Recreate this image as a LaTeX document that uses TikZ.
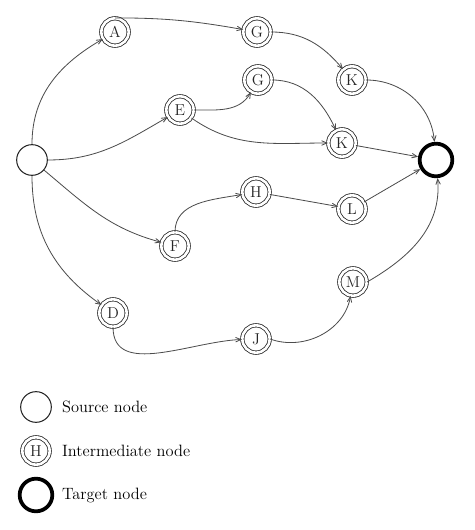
\documentclass[tikz,border=0pt]{standalone}
\usepackage{tikz}
\usetikzlibrary{arrows}
\tikzset{
  source/.style={
    circle, draw, color=black!85, fill=white,
    line width=0.9pt, minimum size=0.92cm, inner sep=0pt
  },
  relay/.style={
    circle, draw, color=black!85, double, double distance=2.2pt,
    line width=0.7pt, minimum size=0.82cm, inner sep=0pt,
    font=\fontsize{13.5}{15}\selectfont
  },
  target/.style={
    circle, draw, color=black, line width=3.2pt,
    minimum size=0.98cm, inner sep=0pt
  },
  link/.style={
    draw, ->, >=angle 45, color=black!70, line width=.7pt
  },
  caption/.style={anchor=west, font=\fontsize{14}{16}\selectfont}
}

\begin{document}
\begin{tikzpicture}[x=0.03cm, y=0.03cm]
        \useasboundingbox (0,0) rectangle (474,530);
        \node[source] (s) at (32,370) {};
        \node[relay] (a) at (115,498) {A};
        \node[relay] (g1) at (257,498) {G};
        \node[relay] (k1) at (352,450) {K};
        \node[relay] (g2) at (258,450) {G};
        \node[relay] (e) at (180,420) {E};
        \node[relay] (k2) at (342,387) {K};
        \node[target] (t) at (436,370) {};
        \node[relay] (h) at (256,338) {H};
        \node[relay] (l) at (352,321) {L};
        \node[relay] (f) at (175,284) {F};
        \node[relay] (m) at (353,248) {M};
        \node[relay] (d) at (113,217) {D};
        \node[relay] (j) at (256,191) {J};

        \draw (s.north) edge[link, out=90, in=210] (a);
        \draw (a.north) edge[link, out=0, in=170] (g1);
        \draw (g1.east) edge[link, out=0, in=130] (k1);
        \draw (g2.east) edge[link, out=0, in=115] (k2);
        \draw (k1.east) edge[link, out=0, in=95] (t);
        \draw (e.east) edge[link, out=0, in=240] (g2);
        \draw (e) edge[link, out=-35, in=180] (k2);
        \draw[link] (k2) -- (t);
        \draw (s.east) edge[link, out=0, in=210] (e);
        \draw (s) edge[link, out=-40, in=165] (f);
        \draw (s.south) edge[link, out=270, in=145] (d);
        \draw (f.north) edge[link, out=90, in=190] (h);
        \draw[link] (h) -- (l);
        \draw[link] (l) -- (t);
        \draw (d.south) edge[link, out=-90, in=182] (j);
        \draw (j.east) edge[link, out=-20, in=-100] (m);
        \draw (m.east) edge[link, out=30, in=-85] (t);

        % legend
        \node[source] (ks) at (36,123) {};
        \node[caption] (ts) at (58,123) {Source node};
        \node[relay] (kr) at (36,79) {H};
        \node[caption] (tr) at (58,79) {Intermediate node};
        \node[target] (kt) at (36,35) {};
        \node[caption] (tt) at (58,35) {Target node};
      \end{tikzpicture}
\end{document}
